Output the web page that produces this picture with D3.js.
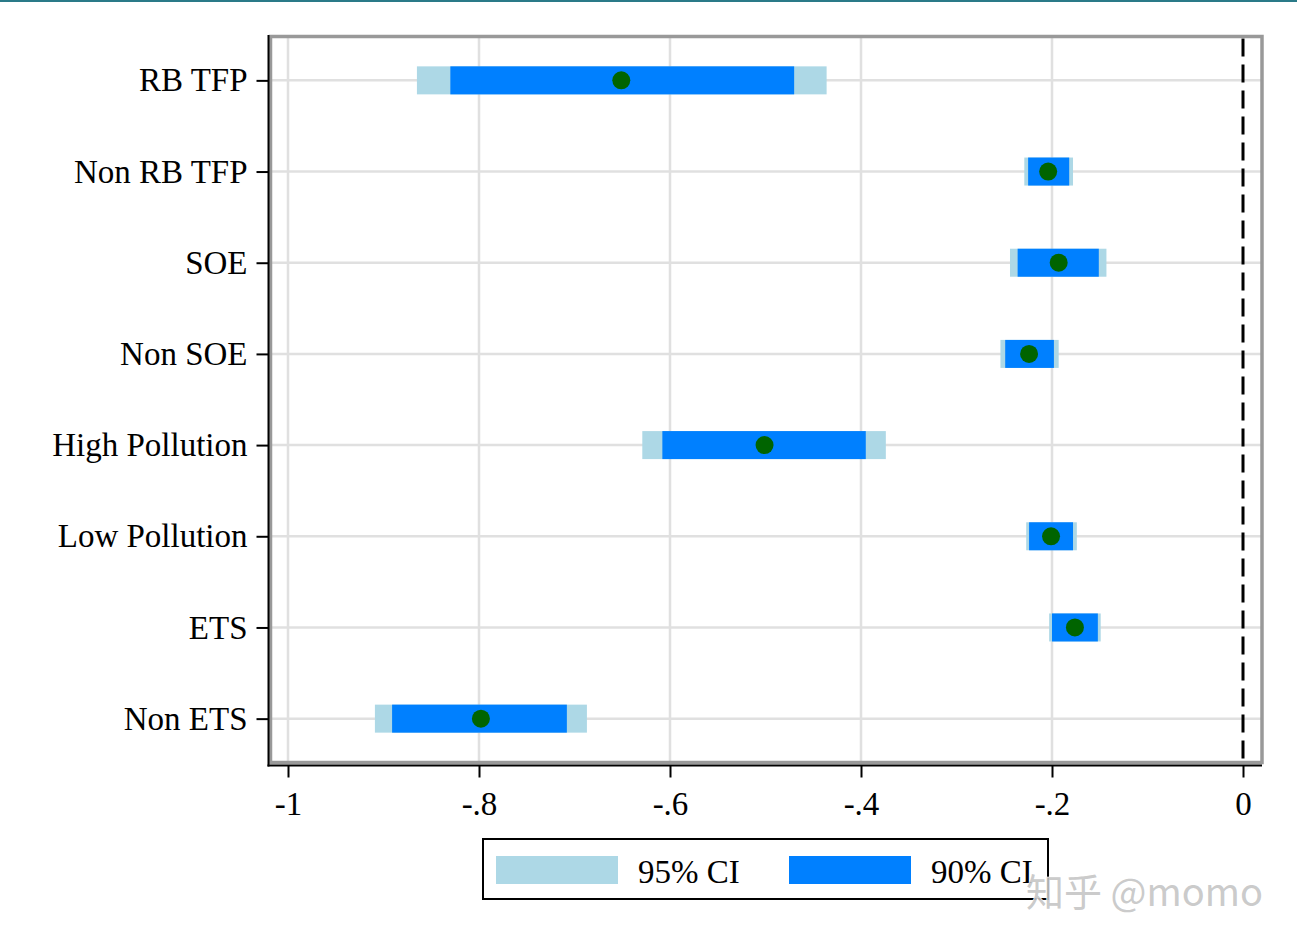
<!DOCTYPE html>
<html lang="en">
<head>
    <meta charset="UTF-8">
    <title>Coefficient plot</title>
    <script src="https://cdn.jsdelivr.net/npm/d3@7"></script>
    <style>
        body { margin: 0; background: #fff; }
        text { font-family: "Liberation Serif", "Times New Roman", serif; }
        text.mark { font-family: "Noto Sans CJK SC", "Noto Sans", sans-serif; }
    </style>
</head>
<body>
<script>
    // data
    const groups = ["RB TFP", "Non RB TFP", "SOE", "Non SOE", "High Pollution", "Low Pollution", "ETS", "Non ETS"];
    const coef   = [-0.651, -0.204, -0.193, -0.224, -0.501, -0.201, -0.176, -0.798];
    const ci95lo = [-0.865, -0.229, -0.244, -0.254, -0.629, -0.227, -0.203, -0.909];
    const ci95hi = [-0.436, -0.178, -0.143, -0.193, -0.374, -0.174, -0.149, -0.687];
    const ci90lo = [-0.830, -0.225, -0.236, -0.249, -0.608, -0.224, -0.200, -0.891];
    const ci90hi = [-0.470, -0.182, -0.151, -0.198, -0.395, -0.178, -0.152, -0.708];
    const xTicks = [-1, -0.8, -0.6, -0.4, -0.2, 0];
    const legendItems = ["95% CI", "90% CI"];

    const width = 1297, height = 943;
    const light = "#add8e6", dark = "#0080ff", dot = "#006400";

    const svg = d3.select("body").append("svg")
        .attr("width", width)
        .attr("height", height);

    // thin teal strip at the very top
    svg.append("rect").attr("x", 0).attr("y", 0).attr("width", width).attr("height", 2)
        .attr("fill", "#2a7a88");

    const frame = {left: 270.5, right: 1262, top: 36.5, bottom: 762.5};

    const x = d3.scaleLinear().domain([-1, 0]).range([288, 1243]);
    const y = d3.scalePoint().domain(groups).range([frame.top, frame.bottom]).padding(0.481);

    // grid
    svg.append("g").selectAll("line")
        .data(xTicks.filter(d => d !== 0))
        .enter().append("line")
        .attr("x1", d => x(d)).attr("x2", d => x(d))
        .attr("y1", frame.top).attr("y2", frame.bottom)
        .attr("stroke", "#e0e0e0").attr("stroke-width", 2.5);

    svg.append("g").selectAll("line")
        .data(groups)
        .enter().append("line")
        .attr("x1", frame.left).attr("x2", frame.right)
        .attr("y1", d => y(d)).attr("y2", d => y(d))
        .attr("stroke", "#e0e0e0").attr("stroke-width", 2.5);

    // zero reference
    svg.append("line")
        .attr("x1", x(0)).attr("x2", x(0))
        .attr("y1", frame.top + 2).attr("y2", frame.bottom)
        .attr("stroke", "#000").attr("stroke-width", 3)
        .attr("stroke-dasharray", "18,8");

    const rows = groups.map((g, i) => ({
        g, b: coef[i], lo95: ci95lo[i], hi95: ci95hi[i], lo90: ci90lo[i], hi90: ci90hi[i]
    }));
    const barH = 28;

    svg.append("g").selectAll("rect")
        .data(rows)
        .enter().append("rect")
        .attr("x", d => x(d.lo95))
        .attr("width", d => x(d.hi95) - x(d.lo95))
        .attr("y", d => y(d.g) - barH / 2)
        .attr("height", barH)
        .attr("fill", light);

    svg.append("g").selectAll("rect")
        .data(rows)
        .enter().append("rect")
        .attr("x", d => x(d.lo90))
        .attr("width", d => x(d.hi90) - x(d.lo90))
        .attr("y", d => y(d.g) - barH / 2)
        .attr("height", barH)
        .attr("fill", dark);

    svg.append("g").selectAll("circle")
        .data(rows)
        .enter().append("circle")
        .attr("cx", d => x(d.b))
        .attr("cy", d => y(d.g))
        .attr("r", 9)
        .attr("fill", dot);

    // plot frame
    svg.append("rect")
        .attr("x", frame.left).attr("y", frame.top)
        .attr("width", frame.right - frame.left)
        .attr("height", frame.bottom - frame.top)
        .attr("fill", "none")
        .attr("stroke", "#999").attr("stroke-width", 3.5);

    // axes
    const xAxis = d3.axisBottom(x)
        .tickValues(xTicks)
        .tickSize(12)
        .tickPadding(14)
        .tickFormat(d => d === 0 ? "0" : d === -1 ? "-1" : "-" + d3.format(".1f")(-d).replace(/^0/, ""));

    const gx = svg.append("g")
        .attr("transform", `translate(0,${frame.bottom + 3})`)
        .call(xAxis);
    gx.select(".domain").attr("d", `M${frame.left - 3},0H${frame.right}`).attr("stroke-width", 2);
    gx.selectAll(".tick line").attr("stroke-width", 2);
    gx.selectAll("text").attr("font-size", 33).attr("fill", "#000");

    const yAxis = d3.axisLeft(y).tickSize(12).tickPadding(9);
    const gy = svg.append("g")
        .attr("transform", `translate(${frame.left - 2},0)`)
        .call(yAxis);
    gy.select(".domain").attr("d", `M0,${frame.top - 1.5}V${frame.bottom + 4}`).attr("stroke-width", 2);
    gy.selectAll(".tick line").attr("stroke-width", 2);
    gy.selectAll("text").attr("font-size", 33).attr("fill", "#000");

    // legend
    const legend = svg.append("g").attr("transform", "translate(483,839)");
    legend.append("rect")
        .attr("width", 565).attr("height", 60)
        .attr("fill", "#fff").attr("stroke", "#000").attr("stroke-width", 2);
    const li = legend.selectAll("g.item")
        .data(legendItems)
        .enter().append("g")
        .attr("class", "item")
        .attr("transform", (d, i) => `translate(${13 + i * 293},17)`);
    li.append("rect")
        .attr("width", 122).attr("height", 28)
        .attr("fill", (d, i) => i === 0 ? light : dark);
    li.append("text")
        .attr("x", 142).attr("y", 27)
        .attr("font-size", 33)
        .text(d => d);

    // watermark
    svg.append("text")
        .attr("class", "mark")
        .attr("x", 1263).attr("y", 906)
        .attr("text-anchor", "end")
        .attr("font-size", 38)
        .attr("fill", "#c4c4c4")
        .attr("fill-opacity", 0.9)
        .attr("stroke", "#fff").attr("stroke-width", 1)
        .attr("paint-order", "stroke")
        .text("知乎 @momo");
</script>
</body>
</html>
